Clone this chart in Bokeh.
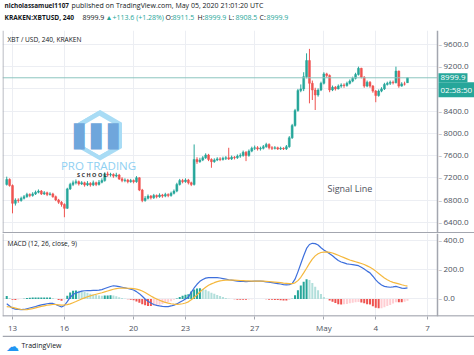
import pandas as pd
from bokeh.plotting import figure
from bokeh.layouts import column
from bokeh.models import (ColumnDataSource, FixedTicker, Range1d, Label, Span,
                          BoxAnnotation)
from bokeh.embed import file_html
from bokeh.resources import INLINE

# ---------------- data ----------------
first_candle = "2020-04-12 16:00"
candle_hours = 4
first_open = 7080
last_open = 8911.5

closes = [
    7170, 7060, 6740, 6800, 6790, 6830, 6860, 6900, 6880, 6910,
    6940, 6960, 6910, 6930, 6900, 6910, 6860, 6800, 6760, 6720,
    6650, 7000, 7080, 7110, 7130, 7090, 7110, 7070, 7100, 7070,
    7110, 7080, 7120, 7150, 7270, 7250, 7260, 7230, 7250, 7180,
    7150, 7160, 7130, 7150, 7130, 7200, 6980, 6790, 6830, 6870,
    6840, 6880, 6860, 6890, 6870, 6900, 6880, 6920, 6960, 7080,
    7150, 7130, 7160, 7110, 7080, 7530, 7490, 7520, 7560, 7610,
    7530, 7490, 7520, 7540, 7530, 7550, 7560, 7540, 7570, 7560,
    7590, 7600, 7660, 7600, 7680, 7730, 7740, 7720, 7730, 7760,
    7800, 7740, 7730, 7740, 7720, 7730, 7720, 7760, 7920, 8140,
    8410, 8770, 8800, 9020, 9310, 8900, 8780, 8690, 8780, 8900,
    9070, 9040, 8780, 8830, 8800, 8850, 8870, 8860, 8900, 8940,
    8990, 9060, 9170, 9010, 8850, 8920, 8850, 8760, 8680, 8760,
    8800, 8880, 8900, 8920, 8910, 9120, 8850, 8890, 8886.3, 8999.9,
]
highs = [
    7220, 7190, 7080, 6830, 6830, 6860, 6890, 6930, 6920, 6940,
    6970, 6990, 6980, 6960, 6950, 6940, 6930, 6880, 6820, 6780,
    6740, 7020, 7110, 7150, 7170, 7150, 7140, 7130, 7140, 7120,
    7150, 7130, 7160, 7190, 7300, 7310, 7290, 7280, 7290, 7270,
    7210, 7190, 7180, 7180, 7170, 7230, 7210, 7000, 6870, 6900,
    6890, 6910, 6900, 6920, 6910, 6930, 6920, 6950, 6990, 7110,
    7180, 7180, 7190, 7180, 7130, 7800, 7570, 7560, 7590, 7640,
    7630, 7550, 7550, 7570, 7570, 7580, 7590, 7740, 7600, 7590,
    7620, 7640, 7690, 7680, 7710, 7760, 7780, 7770, 7760, 7790,
    7830, 7820, 7770, 7770, 7760, 7760, 7750, 7790, 7950, 8170,
    8440, 8800, 8880, 9100, 9440, 9520, 8950, 8820, 8810, 8930,
    9100, 9090, 9060, 8860, 8850, 8880, 8900, 8900, 8930, 8970,
    9020, 9090, 9200, 9180, 9030, 8950, 8940, 8870, 8780, 8790,
    8830, 8910, 8930, 8950, 8950, 9200, 9130, 8920, 8930, 8999.9,
]
lows = [
    7060, 7040, 6560, 6700, 6750, 6770, 6810, 6840, 6850, 6860,
    6890, 6920, 6890, 6890, 6870, 6880, 6840, 6780, 6730, 6680,
    6490, 6640, 6980, 7050, 7080, 7060, 7070, 7040, 7050, 7040,
    7050, 7050, 7060, 7100, 7130, 7220, 7220, 7200, 7210, 7160,
    7120, 7120, 7100, 7110, 7100, 7110, 6960, 6760, 6770, 6810,
    6810, 6820, 6830, 6840, 6840, 6850, 6850, 6860, 6900, 6940,
    7060, 7100, 7110, 7080, 7050, 7060, 7450, 7470, 7500, 7540,
    7500, 7380, 7470, 7500, 7500, 7510, 7520, 7520, 7520, 7530,
    7540, 7560, 7580, 7500, 7580, 7660, 7700, 7690, 7690, 7710,
    7740, 7710, 7700, 7710, 7700, 7700, 7700, 7700, 7740, 7900,
    8120, 8390, 8740, 8760, 8990, 8540, 8600, 8420, 8660, 8760,
    8880, 9000, 8740, 8760, 8770, 8790, 8820, 8820, 8840, 8880,
    8920, 8970, 9040, 8990, 8820, 8830, 8820, 8730, 8560, 8660,
    8740, 8780, 8860, 8870, 8880, 8900, 8820, 8840, 8860, 8908.5,
]
macd = [
    -33, -48, -63, -70, -72, -73, -72, -67, -62, -57,
    -52, -46, -41, -37, -33, -30, -31, -38, -47, -55,
    -45, -18, 10, 30, 40, 47, 53, 56, 57, 57,
    58, 59, 60, 64, 71, 78, 85, 90, 88, 84,
    80, 76, 71, 66, 61, 50, 36, 18, 0, -16,
    -28, -38, -44, -48, -51, -52, -52, -48, -42, -34,
    -23, -12, 0, 12, 45, 75, 100, 120, 133, 142,
    145, 146, 146, 145, 143, 139, 135, 131, 128, 125,
    122, 120, 119, 118, 119, 120, 121, 122, 122, 120,
    117, 114, 111, 108, 105, 102, 98, 96, 97, 105,
    135, 185, 240, 295, 345, 372, 380, 378, 368, 350,
    334, 322, 308, 295, 278, 262, 252, 246, 240, 237,
    234, 231, 227, 217, 205, 190, 178, 155, 130, 110,
    95, 86, 82, 80, 82, 86, 80, 74, 72, 76,
]
signal = [
    -53, -55, -58, -63, -68, -72, -74, -73, -70, -66,
    -61, -56, -51, -47, -43, -40, -38, -38, -40, -42,
    -41, -39, -34, -26, -18, -9, 0, 7, 15, 21,
    27, 32, 37, 42, 48, 54, 60, 66, 70, 73,
    74, 74, 73, 72, 70, 67, 62, 54, 44, 32,
    20, 9, 0, -9, -17, -24, -29, -33, -36, -37,
    -36, -33, -28, -20, -6, 10, 28, 47, 65, 80,
    93, 103, 111, 118, 123, 126, 128, 129, 129, 128,
    127, 126, 125, 124, 123, 122, 122, 122, 122, 121,
    120, 119, 117, 115, 113, 111, 108, 106, 104, 104,
    110, 125, 148, 178, 210, 243, 272, 294, 309, 317,
    320, 321, 318, 314, 306, 298, 290, 282, 274, 266,
    260, 254, 248, 242, 235, 226, 216, 205, 190, 174,
    158, 143, 131, 121, 113, 108, 103, 97, 92, 88,
]

tick_dates = ["2020-04-13", "2020-04-16", "2020-04-20", "2020-04-23",
              "2020-04-27", "2020-05-01", "2020-05-04", "2020-05-07"]
tick_labels = ["13", "16", "20", "23", "27", "May", "4", "7"]
price_ticks = [6400, 6800, 7200, 7600, 8000, 8400, 8800, 9200, 9600]
macd_ticks = [0, 200, 400]

change = 113.6
change_pct = 1.28
countdown = "02:58:50"

# ---------------- derived ----------------
n = len(closes)
idx = list(range(n))
opens = [first_open] + closes[:-1]
opens[-1] = last_open

UP = "#26a69a"
DOWN = "#ef5350"
candle_col = [UP if c >= o else DOWN for o, c in zip(opens, closes)]
src = ColumnDataSource(dict(
    x=idx, h=highs, l=lows,
    top=[max(o, c) for o, c in zip(opens, closes)],
    bot=[min(o, c) for o, c in zip(opens, closes)],
    col=candle_col))

hist = [m - s for m, s in zip(macd, signal)]
hist_col = []
for i, v in enumerate(hist):
    prev = hist[i - 1] if i > 0 else v
    if v >= 0:
        hist_col.append("#26a69a" if v >= prev else "#b2dfdb")
    else:
        hist_col.append("#ffcdd2" if v > prev else "#ef5350")
msrc = ColumnDataSource(dict(x=idx, m=macd, s=signal, h=hist, col=hist_col))

t0 = pd.Timestamp(first_candle)
tick_pos = [int((pd.Timestamp(d) - t0) / pd.Timedelta(hours=candle_hours))
            for d in tick_dates]

# ---------------- layout constants ----------------
W = 474
LEFT = 2
FONT = "Open Sans"
GRID = "#eceef3"
BORDER = "#a3a6af"
AXTXT = "#4c525e"
DARK = "#131722"
AX = 435          # screen x of the price-scale line, from the frame's left edge

xr = Range1d(-1.47, 162.25)


def lab(p, text, x, y, size="7px", color=DARK, bold=False, yu="screen", **kw):
    p.add_layout(Label(x=x, y=y, x_units="screen", y_units=yu, text=text,
                       text_font=FONT, text_font_size=size, text_color=color,
                       text_font_style="bold" if bold else "normal",
                       text_baseline="middle", **kw))


def pane(height, yr, ticks, bottom=0):
    p = figure(width=W, height=height, x_range=xr, y_range=yr, title=None,
               toolbar_location=None, tools="", output_backend="svg",
               min_border_left=LEFT, min_border_right=0, min_border_top=0,
               min_border_bottom=bottom)
    p.yaxis.visible = False
    p.ygrid.ticker = FixedTicker(ticks=ticks)
    p.ygrid.grid_line_color = GRID
    p.xgrid.ticker = FixedTicker(ticks=tick_pos)
    p.xgrid.grid_line_color = GRID
    p.outline_line_color = None
    return p


def price_scale(p, ticks, fmt):
    p.add_layout(BoxAnnotation(left=AX, left_units="screen", fill_color="white",
                               fill_alpha=1, line_color=None))
    p.add_layout(Span(location=AX, location_units="screen", dimension="height",
                      line_color=BORDER, line_width=1.5))
    p.add_layout(Span(location=0.5, location_units="screen", dimension="height",
                      line_color=BORDER, line_width=1))
    for t in ticks:
        lab(p, "\u2013", AX + 1, t, size="7px", color=BORDER, yu="data")
        lab(p, fmt(t), AX + 6, t, size="8px", color=AXTXT, yu="data")


# ---------------- header ----------------
ph = figure(width=W, height=30, x_range=Range1d(0, W), y_range=Range1d(0, 30),
            title=None, toolbar_location=None, tools="", output_backend="svg",
            min_border_left=0, min_border_right=0, min_border_top=0,
            min_border_bottom=0)
ph.axis.visible = False
ph.grid.visible = False
ph.outline_line_color = None

lab(ph, "nicholassamuel1107", 2, 25, size="6.4px", bold=True)
lab(ph, "published on TradingView.com, May 05, 2020 21:01:20 UTC", 69, 25)
lab(ph, "KRAKEN:XBTUSD, 240", 2, 13, size="6.6px", bold=True)
lab(ph, f"{closes[-1]:.1f}", 80, 13)
lab(ph, "\u25b2", 103, 13, color=UP)
lab(ph, f"+{change:.1f} (+{change_pct:.2f}%)", 110, 13, color=UP)
for (k, v), x in zip([("O:", opens[-1]), ("H:", highs[-1]), ("L:", lows[-1]),
                      ("C:", closes[-1])], [163, 195, 226, 257]):
    lab(ph, k, x, 13)
    lab(ph, f"{v:.1f}", x + 7, 13, color=UP)

# ---------------- price pane ----------------
pa = pane(203, Range1d(6197, 9851), price_ticks)
pa.xaxis.visible = False

pa.segment(x0="x", y0="h", x1="x", y1="l", color="col", line_width=1, source=src)
pa.vbar(x="x", width=0.68, top="top", bottom="bot", fill_color="col",
        line_color="col", line_width=0.5, source=src)
pa.add_layout(Span(location=closes[-1], dimension="width", line_color="#8cc5bf",
                   line_width=1))

lab(pa, "XBT / USD, 240, KRAKEN", 5, 194, size="6.6px")

# watermark
for s in ["60px", "58px", "56px"]:
    lab(pa, "\u2b21", 97, 102, size=s, color="#a9dcf5", text_align="center")
lab(pa, "\u258b\u258b\u258b", 97, 99, size="22px", color="#6fa6dc",
    text_align="center")
lab(pa, "PRO TRADING", 96, 68, size="11.5px", color="#8fd0f2", text_align="center")
lab(pa, "S  C  H  O  O  L", 93, 59, size="5.5px", color="#333333", bold=True,
    text_align="center")

lab(pa, "Signal Line", 325, 45, size="9px", color="#50535e")

price_scale(pa, price_ticks, lambda t: f"{t:.1f}")
pa.add_layout(Span(location=0.75, location_units="screen", dimension="width",
                   line_color=BORDER, line_width=1.5))

pa.add_layout(Label(x=AX + 1, y=closes[-1], x_units="screen", y_units="data",
                    text=f"{closes[-1]:.1f}", text_font=FONT, text_font_size="8px",
                    text_color="white", text_baseline="middle",
                    background_fill_color=UP, padding=2))
pa.add_layout(Label(x=AX + 1, y=closes[-1], x_units="screen", y_units="data",
                    y_offset=-12, text=countdown, text_font=FONT,
                    text_font_size="8px", text_color="white",
                    text_baseline="middle", background_fill_color=UP, padding=2))

# ---------------- MACD pane ----------------
pb = pane(102, Range1d(-120, 447), macd_ticks, bottom=17)
xa = pb.xaxis[0]
xa.ticker = FixedTicker(ticks=tick_pos)
xa.major_label_overrides = {t: l for t, l in zip(tick_pos, tick_labels)}
xa.major_label_text_font_size = "8px"
xa.major_label_text_font = FONT
xa.major_label_text_color = AXTXT
xa.axis_line_color = None
xa.major_tick_line_color = BORDER
xa.major_tick_out = 3
xa.major_tick_in = 0
xa.minor_tick_line_color = None
xa.major_label_standoff = 2

pb.vbar(x="x", width=0.7, top="h", bottom=0, fill_color="col", line_color=None,
        source=msrc)
pb.line(x="x", y="m", line_color="#3d6fdc", line_width=1.2, source=msrc)
pb.line(x="x", y="s", line_color="#f5b83d", line_width=1.2, source=msrc)

lab(pb, "MACD (12, 26, close, 9)", 5, 73, size="6.6px")
price_scale(pb, macd_ticks, lambda t: f"{t:.1f}")
pb.add_layout(Span(location=84.5, location_units="screen", dimension="width",
                   line_color=BORDER, line_width=1.5))
pb.add_layout(Span(location=0.5, location_units="screen", dimension="width",
                   line_color=BORDER, line_width=1.5))

# ---------------- footer ----------------
pf = figure(width=W, height=19, x_range=Range1d(0, W), y_range=Range1d(0, 19),
            title=None, toolbar_location=None, tools="", output_backend="svg",
            min_border_left=0, min_border_right=0, min_border_top=0,
            min_border_bottom=0)
pf.axis.visible = False
pf.grid.visible = False
pf.outline_line_color = None
pf.add_layout(Span(location=18.3, location_units="screen", dimension="width",
                   line_color=BORDER, line_width=1.5))
lab(pf, "\u2601", 3, 9, size="13px", color="#2196f3")
lab(pf, "TradingView", 19, 9, size="7px", color=DARK)

p = column(ph, pa, pb, pf)
open("out.html", "w").write(file_html(p, INLINE))
